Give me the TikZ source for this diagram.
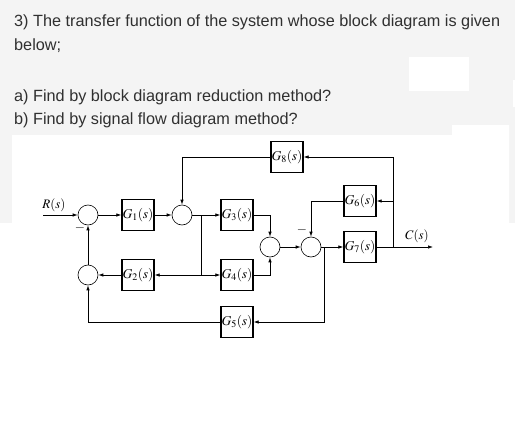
\documentclass[tikz,border=0pt]{standalone}
\usepackage{mathptmx}
\usepackage{fontspec}
\setmainfont{Liberation Sans}
\usepackage{tikz}
\usetikzlibrary{positioning}
\usetikzlibrary{arrows.meta}
\usetikzlibrary{calc}
\definecolor{pagegrey}{HTML}{F4F4F4}
\definecolor{txtgrey}{HTML}{303030}
\tikzstyle{block}=[draw,line width=1.4pt,minimum width=32pt,minimum height=31pt,inner sep=0pt,font=\fontsize{13.5}{13.5}\selectfont]
\tikzstyle{sumnode}=[circle,draw,line width=0.6pt,minimum size=20pt,inner sep=0pt]
\tikzstyle{sig}=[-{Latex[length=5pt,width=3.5pt]},line width=0.7pt]
\tikzstyle{sign}=[inner sep=0pt,font=\fontsize{13}{13}\selectfont]
\tikzstyle{question}=[anchor=base west,inner sep=0pt,text=txtgrey,font=\fontsize{16.25}{16.25}\selectfont]

\begin{document}
\begin{tikzpicture}[x=1pt,y=-1pt]
    \useasboundingbox (0,0) rectangle (515,442);
    % page background
    \fill[pagegrey] (0,0) rectangle (515,442);
    \fill[white] (12,135) -- (452,135) -- (452,125) -- (509,125) -- (509,223) -- (515,223)
        -- (515,442) -- (0,442) -- (0,223) -- (12,223) -- cycle;
    \fill[white] (409,57) rectangle (469,91);
    \fill[white] (513,80) rectangle (515,107);

    % question text
    \node[question] (q1) at (14,26) {3) The transfer function of the system whose block diagram is given};
    \node[question] (q2) at (14,50) {below;};
    \node[question] (q3) at (14,101) {a) Find by block diagram reduction method?};
    \node[question] (q4) at (14,124) {b) Find by signal flow diagram method?};

    % summing junctions
    \foreach \pos/\name in {{(88,215)/sa}, {(182,215)/sb}, {(88,275)/sc}, {(270,247)/sd}, {(311,247)/se}}
        \node[sumnode] (\name) at \pos {};

    % transfer blocks
    \foreach \pos/\name/\idx in {{(138,215)/G1/1}, {(138,275)/G2/2}, {(237,215)/G3/3}, {(237,275)/G4/4},
                                 {(237,322)/G5/5}, {(360,201)/G6/6}, {(360,247)/G7/7}, {(287,157)/G8/8}}
        \node[block] (\name) at \pos {$G_{\idx}(s)$};

    % branch points and free ends
    \coordinate (in) at (43,215);
    \coordinate (out) at (433,247);
    \coordinate (ba) at (201,215);
    \coordinate (bb) at (324,247);
    \coordinate (bc) at (393,247);

    % forward path
    \draw[sig] (in) -- (sa);
    \draw[sig] (sa) -- (G1);
    \draw[sig] (G1) -- (sb);
    \draw[sig] (sb) -- (G3);
    \draw[sig] (G3.east) -| (sd.north);
    \draw[sig] (G4.east) -| (sd.south);
    \draw[sig] (sd) -- (se);
    \draw[sig] (se) -- (G7);
    \draw[sig] (G7) -- (out);

    % inner branches
    \draw[sig] (ba) |- (G2.east);
    \draw[sig] (ba) |- (G4.west);
    \draw[sig] (G2) -- (sc);
    \draw[sig] (sc) -- (sa);
    \draw[sig] (bb) |- (G5.east);
    \draw[sig] (G5.west) -| (sc.south);

    % outer feedback
    \draw[sig] (bc) |- (G6.east);
    \draw[sig] (bc) |- (G8.east);
    \draw[sig] (G6.west) -| (se.north);
    \draw[sig] (G8.west) -| (sb.north);

    % labels
    \node[sign] (rlab) at (54,205) {$R(s)$};
    \node[sign] (clab) at (417,236) {$C(s)$};
    \node[sign] (m1) at (80,228) {$-$};
    \node[sign] (m2) at (302,230) {$-$};
\end{tikzpicture}
\end{document}
